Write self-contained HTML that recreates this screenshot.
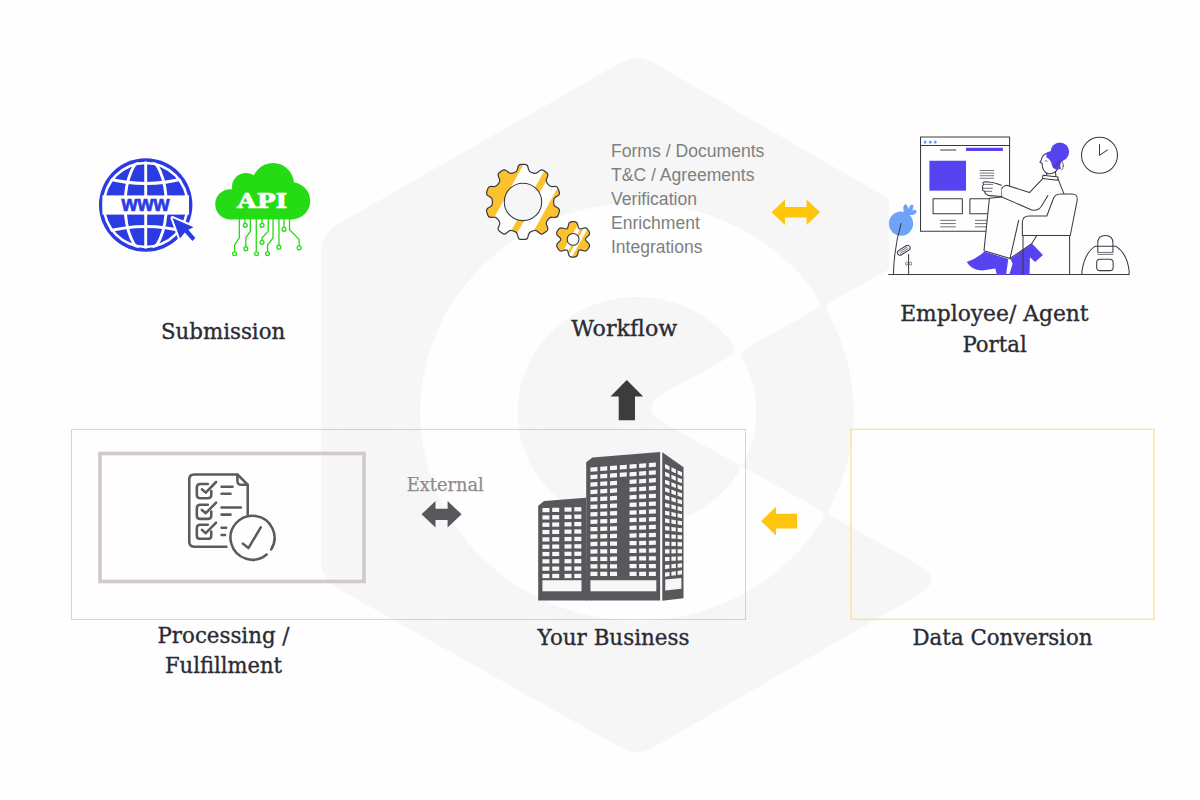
<!DOCTYPE html>
<html lang="en"><head><meta charset="utf-8"><title>Workflow diagram</title>
<style>html,body{margin:0;padding:0;background:#fefefe;}body{width:1200px;height:800px;overflow:hidden;position:relative;font-family:"Liberation Sans",sans-serif;}svg{position:absolute;left:0;top:0;display:block;}.lbl{font-family:"DejaVu Serif","Liberation Serif",serif;font-size:21.5px;fill:#2b2b33;stroke:#2b2b33;stroke-width:0.35px;}.lst{font-family:"Liberation Sans",sans-serif;font-size:17.5px;fill:#808080;}</style></head><body>
<svg width="1200" height="800" viewBox="0 0 1200 800">
<defs><clipPath id="hexclip"><path d="M637.0,53.0 L953.5,236.0 L950.0,577.0 L637.0,757.0 L320.5,579.0 L320.5,234.0 Z"/></clipPath>
<filter id="rnd" x="0" y="0" width="1200" height="800" filterUnits="userSpaceOnUse" color-interpolation-filters="sRGB"><feGaussianBlur stdDeviation="11"/><feComponentTransfer><feFuncA type="linear" slope="55" intercept="-27.00"/></feComponentTransfer></filter></defs>
<g filter="url(#rnd)"><path clip-path="url(#hexclip)" fill-rule="evenodd" fill="#f6f6f6" d="M637.0,53.0 L953.5,236.0 L950.0,577.0 L637.0,757.0 L320.5,579.0 L320.5,234.0 Z M420.0,412.0 a217.0,209.0 0 1 0 434.0,0 a217.0,209.0 0 1 0 -434.0,0 Z M517.0,412.0 a120.0,115.6 0 1 0 240.0,0 a120.0,115.6 0 1 0 -240.0,0 Z M637,408 L1137.0,133.0 L1137.0,686.0 Z"/></g>
<rect x="889" y="128" width="243" height="153" fill="#fefefe"/>
<rect x="71.5" y="429.5" width="674" height="190" fill="none" stroke="#b9b9b9" stroke-width="1" stroke-dasharray="1.2,0.8"/>
<rect x="100" y="453.5" width="264" height="128" fill="none" stroke="#d1c8c8" stroke-width="3.6"/>
<rect x="851" y="429.3" width="303" height="190" fill="none" stroke="#fbe08a" stroke-width="1.2"/>
<text class="lbl" x="161.0" y="338.6" textLength="124.2" lengthAdjust="spacingAndGlyphs">Submission</text>
<text class="lbl" x="571.3" y="336.4" textLength="106.0" lengthAdjust="spacingAndGlyphs">Workflow</text>
<text class="lbl" x="900.2" y="320.5" textLength="188.4" lengthAdjust="spacingAndGlyphs">Employee/ Agent</text>
<text class="lbl" x="962.4" y="352.0" textLength="64.4" lengthAdjust="spacingAndGlyphs">Portal</text>
<text class="lbl" x="157.5" y="642.6" textLength="132.0" lengthAdjust="spacingAndGlyphs">Processing /</text>
<text class="lbl" x="165.0" y="673.1" textLength="117.0" lengthAdjust="spacingAndGlyphs">Fulfillment</text>
<text class="lbl" x="537.6" y="645.0" textLength="151.9" lengthAdjust="spacingAndGlyphs">Your Business</text>
<text class="lbl" x="912.5" y="644.5" textLength="180.0" lengthAdjust="spacingAndGlyphs">Data Conversion</text>
<text class="lbl" x="406.8" y="491.3" textLength="77.0" lengthAdjust="spacingAndGlyphs" style="font-size:18.5px;fill:#8c8c8c;stroke:#8c8c8c;stroke-width:0.25px">External</text>
<text class="lst" x="611.0" y="156.6" textLength="153.4" lengthAdjust="spacingAndGlyphs">Forms / Documents</text>
<text class="lst" x="611.0" y="180.6" textLength="143.5" lengthAdjust="spacingAndGlyphs">T&amp;C / Agreements</text>
<text class="lst" x="611.0" y="204.6" textLength="86.0" lengthAdjust="spacingAndGlyphs">Verification</text>
<text class="lst" x="611.0" y="228.6" textLength="88.8" lengthAdjust="spacingAndGlyphs">Enrichment</text>
<text class="lst" x="611.0" y="252.6" textLength="91.4" lengthAdjust="spacingAndGlyphs">Integrations</text>
<polygon points="771.6,212.3 785.0,199.6 785.0,207.1 806.6,207.1 806.6,199.6 820.0,212.3 806.6,225.0 806.6,217.5 785.0,217.5 785.0,225.0" fill="#fec50a"/>
<polygon points="421.5,514.3 435.5,501.1 435.5,508.7 447.6,508.7 447.6,501.1 461.6,514.3 447.6,527.5 447.6,519.9 435.5,519.9 435.5,527.5" fill="#58575c"/>
<polygon points="626.8,380 643.2,396.4 635,396.4 635,420.2 618.7,420.2 618.7,396.4 610.5,396.4" fill="#3c3c3e"/>
<polygon points="761,521.1 776,506.7 776,513.8 797,513.8 797,528.5 776,528.5 776,535.6" fill="#fec50a"/><g id="globe">
<clipPath id="gclip"><circle cx="145.7" cy="205.0" r="43.5"/></clipPath>
<circle cx="145.7" cy="205.0" r="46.7" fill="#2b3be3"/>
<circle cx="145.7" cy="205.0" r="43.3" fill="#fff"/>
<circle cx="145.7" cy="205.0" r="40.7" fill="#2b3be3"/>
<g clip-path="url(#gclip)" stroke="#fff" stroke-width="2.9" fill="none">
<line x1="145.7" y1="158.3" x2="145.7" y2="251.7"/>
<ellipse cx="145.7" cy="205.0" rx="20.6" ry="47.2"/>
<path d="M105.7,178.0 Q145.7,189.0 185.7,178.0"/>
<path d="M105.7,232.0 Q145.7,221.0 185.7,232.0"/>
</g>
<rect x="102.4" y="195.4" width="86.6" height="19.2" fill="#fff"/>
<text x="121.6" y="211.2" textLength="48" lengthAdjust="spacingAndGlyphs" style="font-family:'Liberation Sans',sans-serif;font-weight:bold;font-size:22.5px;fill:#2b3be3;stroke:#2b3be3;stroke-width:0.7">www</text>
<polygon points="172.5,218 180,238.5 184.8,232.5 192.4,241 195.4,238 188.3,229.7 193.6,227.2" fill="#fff" stroke="#fff" stroke-width="4" stroke-linejoin="round"/>
<polygon points="172.5,218 180,238.5 184.8,232.5 192.4,241 195.4,238 188.3,229.7 193.6,227.2" fill="#2b3be3"/>
</g>
<g id="api">
<g fill="#25dc14">
<circle cx="230.3" cy="204.3" r="15.1"/>
<circle cx="246" cy="187" r="14"/>
<circle cx="273" cy="184" r="21"/>
<circle cx="291.6" cy="200.9" r="18.6"/>
<rect x="230" y="190" width="62" height="29.4"/>
</g>
<text x="237.3" y="207.7" textLength="50" lengthAdjust="spacingAndGlyphs" style="font-family:'DejaVu Serif','Liberation Serif',serif;font-weight:bold;font-size:19.8px;fill:#fff;stroke:#fff;stroke-width:0.7">API</text>
<g transform="translate(205,150) scale(0.13746)" fill="none" stroke="#25dc14" stroke-width="9.5" stroke-linejoin="round">
<path d="M250,500 V640 L215,690 V740"/>
<path d="M290,500 V533"/>
<path d="M330,500 V590 L297,640 V703"/>
<path d="M373,500 V740"/>
<path d="M415,500 V533"/>
<path d="M460,500 V590 L415,640 V657"/>
<path d="M495,500 V640 L455,690 V740"/>
<path d="M538,500 V692"/>
<path d="M575,500 V562"/>
<path d="M615,500 V580 L685,650 V697"/>
<circle cx="215" cy="755" r="14" fill="#fefefe"/>
<circle cx="293" cy="548" r="14" fill="#fefefe"/>
<circle cx="297" cy="718" r="14" fill="#fefefe"/>
<circle cx="375" cy="755" r="14" fill="#fefefe"/>
<circle cx="415" cy="548" r="14" fill="#fefefe"/>
<circle cx="415" cy="672" r="14" fill="#fefefe"/>
<circle cx="455" cy="755" r="14" fill="#fefefe"/>
<circle cx="537" cy="707" r="14" fill="#fefefe"/>
<circle cx="575" cy="577" r="14" fill="#fefefe"/>
<circle cx="685" cy="712" r="14" fill="#fefefe"/>
</g></g>
<g id="gears">
<clipPath id="g1c"><path d="M514.48,172.49 Q516.86,171.72 517.47,169.29 L518.11,166.77 Q518.72,164.34 521.22,164.34 L524.78,164.34 Q527.28,164.34 527.89,166.77 L528.53,169.29 Q529.14,171.72 531.52,172.49 L533.39,173.10 Q535.77,173.87 537.69,172.27 L539.69,170.60 Q541.61,169.00 543.64,170.47 L546.51,172.56 Q548.54,174.03 547.61,176.35 L546.64,178.77 Q545.71,181.09 547.18,183.11 L548.34,184.71 Q549.81,186.73 552.30,186.57 L554.90,186.39 Q557.40,186.22 558.17,188.60 L559.27,191.99 Q560.04,194.36 557.92,195.69 L555.72,197.08 Q553.60,198.41 553.60,200.91 L553.60,202.89 Q553.60,205.39 555.72,206.72 L557.92,208.11 Q560.04,209.44 559.27,211.81 L558.17,215.20 Q557.40,217.58 554.90,217.41 L552.30,217.23 Q549.81,217.07 548.34,219.09 L547.18,220.69 Q545.71,222.71 546.64,225.03 L547.61,227.45 Q548.54,229.77 546.51,231.24 L543.64,233.33 Q541.61,234.80 539.69,233.20 L537.69,231.53 Q535.77,229.93 533.39,230.70 L531.52,231.31 Q529.14,232.08 528.53,234.51 L527.89,237.03 Q527.28,239.46 524.78,239.46 L521.22,239.46 Q518.72,239.46 518.11,237.03 L517.47,234.51 Q516.86,232.08 514.48,231.31 L512.61,230.70 Q510.23,229.93 508.31,231.53 L506.31,233.20 Q504.39,234.80 502.36,233.33 L499.49,231.24 Q497.46,229.77 498.39,227.45 L499.36,225.03 Q500.29,222.71 498.82,220.69 L497.66,219.09 Q496.19,217.07 493.70,217.23 L491.10,217.41 Q488.60,217.58 487.83,215.20 L486.73,211.81 Q485.96,209.44 488.08,208.11 L490.28,206.72 Q492.40,205.39 492.40,202.89 L492.40,200.91 Q492.40,198.41 490.28,197.08 L488.08,195.69 Q485.96,194.36 486.73,191.99 L487.83,188.60 Q488.60,186.22 491.10,186.39 L493.70,186.57 Q496.19,186.73 497.66,184.71 L498.82,183.11 Q500.29,181.09 499.36,178.77 L498.39,176.35 Q497.46,174.03 499.49,172.56 L502.36,170.47 Q504.39,169.00 506.31,170.60 L508.31,172.27 Q510.23,173.87 512.61,173.10 Z"/></clipPath><clipPath id="g2c"><path d="M566.97,228.79 Q567.90,228.25 568.43,225.10 L568.48,224.82 Q569.01,221.67 572.21,221.67 L573.99,221.67 Q577.19,221.67 577.72,224.82 L577.77,225.10 Q578.30,228.25 579.23,228.79 L579.23,228.79 Q580.15,229.32 583.15,228.20 L583.41,228.11 Q586.41,226.99 588.01,229.76 L588.90,231.31 Q590.50,234.08 588.04,236.12 L587.82,236.29 Q585.35,238.33 585.35,239.40 L585.35,239.40 Q585.35,240.47 587.82,242.51 L588.04,242.68 Q590.50,244.72 588.90,247.49 L588.01,249.04 Q586.41,251.81 583.41,250.69 L583.15,250.60 Q580.15,249.48 579.23,250.01 L579.23,250.01 Q578.30,250.55 577.77,253.70 L577.72,253.98 Q577.19,257.13 573.99,257.13 L572.21,257.13 Q569.01,257.13 568.48,253.98 L568.43,253.70 Q567.90,250.55 566.97,250.01 L566.97,250.01 Q566.05,249.48 563.05,250.60 L562.79,250.69 Q559.79,251.81 558.19,249.04 L557.30,247.49 Q555.70,244.72 558.16,242.68 L558.38,242.51 Q560.85,240.47 560.85,239.40 L560.85,239.40 Q560.85,238.33 558.38,236.29 L558.16,236.12 Q555.70,234.08 557.30,231.31 L558.19,229.76 Q559.79,226.99 562.79,228.11 L563.05,228.20 Q566.05,229.32 566.97,228.79 Z"/></clipPath>
<g clip-path="url(#g1c)"><rect x="480" y="160" width="90" height="90" fill="#fbc22e"/>
<path d="M531.5,150 L555.8,150 L489.4,270 L465.2,270 Z" fill="#fff"/>
<path d="M563.2,150 L578.5,150 L512.2,270 L496.9,270 Z" fill="#fff"/>
</g>
<path d="M514.48,172.49 Q516.86,171.72 517.47,169.29 L518.11,166.77 Q518.72,164.34 521.22,164.34 L524.78,164.34 Q527.28,164.34 527.89,166.77 L528.53,169.29 Q529.14,171.72 531.52,172.49 L533.39,173.10 Q535.77,173.87 537.69,172.27 L539.69,170.60 Q541.61,169.00 543.64,170.47 L546.51,172.56 Q548.54,174.03 547.61,176.35 L546.64,178.77 Q545.71,181.09 547.18,183.11 L548.34,184.71 Q549.81,186.73 552.30,186.57 L554.90,186.39 Q557.40,186.22 558.17,188.60 L559.27,191.99 Q560.04,194.36 557.92,195.69 L555.72,197.08 Q553.60,198.41 553.60,200.91 L553.60,202.89 Q553.60,205.39 555.72,206.72 L557.92,208.11 Q560.04,209.44 559.27,211.81 L558.17,215.20 Q557.40,217.58 554.90,217.41 L552.30,217.23 Q549.81,217.07 548.34,219.09 L547.18,220.69 Q545.71,222.71 546.64,225.03 L547.61,227.45 Q548.54,229.77 546.51,231.24 L543.64,233.33 Q541.61,234.80 539.69,233.20 L537.69,231.53 Q535.77,229.93 533.39,230.70 L531.52,231.31 Q529.14,232.08 528.53,234.51 L527.89,237.03 Q527.28,239.46 524.78,239.46 L521.22,239.46 Q518.72,239.46 518.11,237.03 L517.47,234.51 Q516.86,232.08 514.48,231.31 L512.61,230.70 Q510.23,229.93 508.31,231.53 L506.31,233.20 Q504.39,234.80 502.36,233.33 L499.49,231.24 Q497.46,229.77 498.39,227.45 L499.36,225.03 Q500.29,222.71 498.82,220.69 L497.66,219.09 Q496.19,217.07 493.70,217.23 L491.10,217.41 Q488.60,217.58 487.83,215.20 L486.73,211.81 Q485.96,209.44 488.08,208.11 L490.28,206.72 Q492.40,205.39 492.40,202.89 L492.40,200.91 Q492.40,198.41 490.28,197.08 L488.08,195.69 Q485.96,194.36 486.73,191.99 L487.83,188.60 Q488.60,186.22 491.10,186.39 L493.70,186.57 Q496.19,186.73 497.66,184.71 L498.82,183.11 Q500.29,181.09 499.36,178.77 L498.39,176.35 Q497.46,174.03 499.49,172.56 L502.36,170.47 Q504.39,169.00 506.31,170.60 L508.31,172.27 Q510.23,173.87 512.61,173.10 Z" fill="none" stroke="#3a3a46" stroke-width="1.2"/>
<circle cx="523" cy="201.9" r="18.7" fill="#f6f6f6" stroke="#3a3a46" stroke-width="1.1"/>
<g clip-path="url(#g2c)"><rect x="550" y="218" width="46" height="46" fill="#fbc22e"/>
<path d="M619.0,150 L624.0,150 L557.7,270 L552.7,270 Z" fill="#fff"/>
<path d="M627.0,150 L631.0,150 L564.7,270 L560.7,270 Z" fill="#fff"/>
</g>
<path d="M566.97,228.79 Q567.90,228.25 568.43,225.10 L568.48,224.82 Q569.01,221.67 572.21,221.67 L573.99,221.67 Q577.19,221.67 577.72,224.82 L577.77,225.10 Q578.30,228.25 579.23,228.79 L579.23,228.79 Q580.15,229.32 583.15,228.20 L583.41,228.11 Q586.41,226.99 588.01,229.76 L588.90,231.31 Q590.50,234.08 588.04,236.12 L587.82,236.29 Q585.35,238.33 585.35,239.40 L585.35,239.40 Q585.35,240.47 587.82,242.51 L588.04,242.68 Q590.50,244.72 588.90,247.49 L588.01,249.04 Q586.41,251.81 583.41,250.69 L583.15,250.60 Q580.15,249.48 579.23,250.01 L579.23,250.01 Q578.30,250.55 577.77,253.70 L577.72,253.98 Q577.19,257.13 573.99,257.13 L572.21,257.13 Q569.01,257.13 568.48,253.98 L568.43,253.70 Q567.90,250.55 566.97,250.01 L566.97,250.01 Q566.05,249.48 563.05,250.60 L562.79,250.69 Q559.79,251.81 558.19,249.04 L557.30,247.49 Q555.70,244.72 558.16,242.68 L558.38,242.51 Q560.85,240.47 560.85,239.40 L560.85,239.40 Q560.85,238.33 558.38,236.29 L558.16,236.12 Q555.70,234.08 557.30,231.31 L558.19,229.76 Q559.79,226.99 562.79,228.11 L563.05,228.20 Q566.05,229.32 566.97,228.79 Z" fill="none" stroke="#3a3a46" stroke-width="1.2"/>
<circle cx="573.1" cy="239.4" r="5.9" fill="#fafafa" stroke="#3a3a46" stroke-width="1.1"/>
</g><g id="checklist" transform="translate(170,460) scale(0.13755)" fill="none" stroke="#5b5a61" stroke-width="18.5" stroke-linecap="round" stroke-linejoin="round">
<path d="M410,630 H175 Q140,630 140,595 V140 Q140,105 175,105 H490 L565,180 V395"/>
<path d="M490,108 V150 Q490,180 520,180 H562"/>
<path d="M300,225 V255 Q300,278 275,278 H220 Q195,278 195,253 V200 Q195,175 220,175 H275"/>
<path d="M232,213 L260,237 L335,160"/>
<path d="M300,375 V405 Q300,428 275,428 H220 Q195,428 195,403 V350 Q195,325 220,325 H275"/>
<path d="M232,363 L260,387 L335,310"/>
<path d="M300,520 V550 Q300,573 275,573 H220 Q195,573 195,548 V495 Q195,470 220,470 H275"/>
<path d="M232,508 L260,532 L335,455"/>
<path d="M375,195 H455"/>
<path d="M375,245 H440"/>
<path d="M375,345 H515"/>
<path d="M375,397 H440"/>
<path d="M375,492 H408"/>
<path d="M375,545 H400"/>
<path d="M702.8,687.6 A160,160 0 1 1 735.7,649.8" fill="#fefefe"/>
<path d="M530,608 L570,640 L660,490"/>
</g>
<g id="building" transform="translate(525,440) scale(0.21249)">
<g fill="#58575c">
<polygon points="62,755 62,310 90,287 287,272 292,755"/>
<polygon points="288,755 288,105 318,82 636,56 636,755"/>
<polygon points="646,757 646,58 746,128 746,745"/>
</g><g fill="#f7f7f7">
<polygon points="308.0,130.0 341.0,127.4 341.0,147.4 308.0,150.0"/>
<polygon points="308.0,165.0 341.0,162.5 341.0,182.5 308.0,185.0"/>
<polygon points="308.0,200.0 341.0,197.7 341.0,217.7 308.0,220.0"/>
<polygon points="308.0,235.0 341.0,232.9 341.0,252.9 308.0,255.0"/>
<polygon points="308.0,270.0 341.0,268.1 341.0,288.1 308.0,290.0"/>
<polygon points="308.0,305.0 341.0,303.3 341.0,323.3 308.0,325.0"/>
<polygon points="308.0,340.0 341.0,338.5 341.0,358.5 308.0,360.0"/>
<polygon points="308.0,375.0 341.0,373.7 341.0,393.7 308.0,395.0"/>
<polygon points="308.0,410.0 341.0,408.9 341.0,428.9 308.0,430.0"/>
<polygon points="308.0,445.0 341.0,444.1 341.0,464.1 308.0,465.0"/>
<polygon points="308.0,480.0 341.0,479.2 341.0,499.2 308.0,500.0"/>
<polygon points="308.0,515.0 341.0,514.4 341.0,534.4 308.0,535.0"/>
<polygon points="308.0,550.0 341.0,549.6 341.0,569.6 308.0,570.0"/>
<polygon points="308.0,585.0 341.0,584.8 341.0,604.8 308.0,605.0"/>
<polygon points="308.0,620.0 341.0,620.0 341.0,640.0 308.0,640.0"/>
<polygon points="354.0,126.3 387.0,123.7 387.0,143.7 354.0,146.3"/>
<polygon points="354.0,161.6 387.0,159.1 387.0,179.1 354.0,181.6"/>
<polygon points="354.0,196.8 387.0,194.6 387.0,214.6 354.0,216.8"/>
<polygon points="354.0,232.1 387.0,230.0 387.0,250.0 354.0,252.1"/>
<polygon points="354.0,267.4 387.0,265.5 387.0,285.5 354.0,287.4"/>
<polygon points="354.0,302.6 387.0,300.9 387.0,320.9 354.0,322.6"/>
<polygon points="354.0,337.9 387.0,336.4 387.0,356.4 354.0,357.9"/>
<polygon points="354.0,373.2 387.0,371.8 387.0,391.8 354.0,393.2"/>
<polygon points="354.0,408.4 387.0,407.3 387.0,427.3 354.0,428.4"/>
<polygon points="354.0,443.7 387.0,442.7 387.0,462.7 354.0,463.7"/>
<polygon points="354.0,478.9 387.0,478.2 387.0,498.2 354.0,498.9"/>
<polygon points="354.0,514.2 387.0,513.6 387.0,533.6 354.0,534.2"/>
<polygon points="354.0,549.5 387.0,549.1 387.0,569.1 354.0,569.5"/>
<polygon points="354.0,584.7 387.0,584.5 387.0,604.5 354.0,604.7"/>
<polygon points="354.0,620.0 387.0,620.0 387.0,640.0 354.0,640.0"/>
<polygon points="400.0,122.6 433.0,120.0 433.0,140.0 400.0,142.6"/>
<polygon points="400.0,158.2 433.0,155.7 433.0,175.7 400.0,178.2"/>
<polygon points="400.0,193.7 433.0,191.4 433.0,211.4 400.0,213.7"/>
<polygon points="400.0,229.2 433.0,227.1 433.0,247.1 400.0,249.2"/>
<polygon points="400.0,264.7 433.0,262.9 433.0,282.9 400.0,284.7"/>
<polygon points="400.0,300.3 433.0,298.6 433.0,318.6 400.0,320.3"/>
<polygon points="400.0,335.8 433.0,334.3 433.0,354.3 400.0,355.8"/>
<polygon points="400.0,371.3 433.0,370.0 433.0,390.0 400.0,391.3"/>
<polygon points="400.0,406.8 433.0,405.7 433.0,425.7 400.0,426.8"/>
<polygon points="400.0,442.4 433.0,441.4 433.0,461.4 400.0,462.4"/>
<polygon points="400.0,477.9 433.0,477.1 433.0,497.1 400.0,497.9"/>
<polygon points="400.0,513.4 433.0,512.9 433.0,532.9 400.0,533.4"/>
<polygon points="400.0,548.9 433.0,548.6 433.0,568.6 400.0,568.9"/>
<polygon points="400.0,584.5 433.0,584.3 433.0,604.3 400.0,604.5"/>
<polygon points="400.0,620.0 433.0,620.0 433.0,640.0 400.0,640.0"/>
<polygon points="446.0,119.0 479.0,116.3 479.0,136.3 446.0,139.0"/>
<polygon points="446.0,154.7 479.0,152.3 479.0,172.3 446.0,174.7"/>
<polygon points="492.0,115.3 525.0,112.6 525.0,132.6 492.0,135.3"/>
<polygon points="492.0,151.3 525.0,148.9 525.0,168.9 492.0,171.3"/>
<polygon points="492.0,187.4 525.0,185.1 525.0,205.1 492.0,207.4"/>
<polygon points="492.0,223.4 525.0,221.4 525.0,241.4 492.0,243.4"/>
<polygon points="492.0,259.5 525.0,257.6 525.0,277.6 492.0,279.5"/>
<polygon points="492.0,295.5 525.0,293.8 525.0,313.8 492.0,315.5"/>
<polygon points="492.0,331.6 525.0,330.1 525.0,350.1 492.0,351.6"/>
<polygon points="492.0,367.6 525.0,366.3 525.0,386.3 492.0,387.6"/>
<polygon points="492.0,403.7 525.0,402.6 525.0,422.6 492.0,423.7"/>
<polygon points="492.0,439.7 525.0,438.8 525.0,458.8 492.0,459.7"/>
<polygon points="492.0,475.8 525.0,475.0 525.0,495.0 492.0,495.8"/>
<polygon points="492.0,511.8 525.0,511.3 525.0,531.3 492.0,531.8"/>
<polygon points="492.0,547.9 525.0,547.5 525.0,567.5 492.0,567.9"/>
<polygon points="492.0,583.9 525.0,583.8 525.0,603.8 492.0,603.9"/>
<polygon points="492.0,620.0 525.0,620.0 525.0,640.0 492.0,640.0"/>
<polygon points="537.0,111.7 570.0,109.0 570.0,129.0 537.0,131.7"/>
<polygon points="537.0,148.0 570.0,145.5 570.0,165.5 537.0,168.0"/>
<polygon points="537.0,184.3 570.0,182.0 570.0,202.0 537.0,204.3"/>
<polygon points="537.0,220.6 570.0,218.5 570.0,238.5 537.0,240.6"/>
<polygon points="537.0,256.9 570.0,255.0 570.0,275.0 537.0,276.9"/>
<polygon points="537.0,293.2 570.0,291.5 570.0,311.5 537.0,313.2"/>
<polygon points="537.0,329.5 570.0,328.0 570.0,348.0 537.0,349.5"/>
<polygon points="537.0,365.8 570.0,364.5 570.0,384.5 537.0,385.8"/>
<polygon points="537.0,402.1 570.0,401.0 570.0,421.0 537.0,422.1"/>
<polygon points="537.0,438.5 570.0,437.5 570.0,457.5 537.0,458.5"/>
<polygon points="537.0,474.8 570.0,474.0 570.0,494.0 537.0,494.8"/>
<polygon points="537.0,511.1 570.0,510.5 570.0,530.5 537.0,531.1"/>
<polygon points="537.0,547.4 570.0,547.0 570.0,567.0 537.0,567.4"/>
<polygon points="537.0,583.7 570.0,583.5 570.0,603.5 537.0,603.7"/>
<polygon points="537.0,620.0 570.0,620.0 570.0,640.0 537.0,640.0"/>
<polygon points="583.0,108.0 616.0,105.4 616.0,125.4 583.0,128.0"/>
<polygon points="583.0,144.6 616.0,142.1 616.0,162.1 583.0,164.6"/>
<polygon points="583.0,181.1 616.0,178.9 616.0,198.9 583.0,201.1"/>
<polygon points="583.0,217.7 616.0,215.6 616.0,235.6 583.0,237.7"/>
<polygon points="583.0,254.3 616.0,252.4 616.0,272.4 583.0,274.3"/>
<polygon points="583.0,290.9 616.0,289.2 616.0,309.2 583.0,310.9"/>
<polygon points="583.0,327.4 616.0,325.9 616.0,345.9 583.0,347.4"/>
<polygon points="583.0,364.0 616.0,362.7 616.0,382.7 583.0,384.0"/>
<polygon points="583.0,400.6 616.0,399.4 616.0,419.4 583.0,420.6"/>
<polygon points="583.0,437.1 616.0,436.2 616.0,456.2 583.0,457.1"/>
<polygon points="583.0,473.7 616.0,473.0 616.0,493.0 583.0,493.7"/>
<polygon points="583.0,510.3 616.0,509.7 616.0,529.7 583.0,530.3"/>
<polygon points="583.0,546.9 616.0,546.5 616.0,566.5 583.0,566.9"/>
<polygon points="583.0,583.4 616.0,583.2 616.0,603.2 583.0,603.4"/>
<polygon points="583.0,620.0 616.0,620.0 616.0,640.0 583.0,640.0"/>
<rect x="82.0" y="320.0" width="33" height="20"/>
<rect x="82.0" y="354.4" width="33" height="20"/>
<rect x="82.0" y="388.9" width="33" height="20"/>
<rect x="82.0" y="423.3" width="33" height="20"/>
<rect x="82.0" y="457.8" width="33" height="20"/>
<rect x="82.0" y="492.2" width="33" height="20"/>
<rect x="82.0" y="526.7" width="33" height="20"/>
<rect x="82.0" y="561.1" width="33" height="20"/>
<rect x="82.0" y="595.6" width="33" height="20"/>
<rect x="82.0" y="630.0" width="33" height="20"/>
<rect x="128.0" y="318.8" width="33" height="20"/>
<rect x="128.0" y="353.4" width="33" height="20"/>
<rect x="128.0" y="387.9" width="33" height="20"/>
<rect x="128.0" y="422.5" width="33" height="20"/>
<rect x="128.0" y="457.1" width="33" height="20"/>
<rect x="128.0" y="491.7" width="33" height="20"/>
<rect x="128.0" y="526.3" width="33" height="20"/>
<rect x="128.0" y="560.8" width="33" height="20"/>
<rect x="128.0" y="595.4" width="33" height="20"/>
<rect x="128.0" y="630.0" width="33" height="20"/>
<rect x="186.0" y="317.2" width="33" height="20"/>
<rect x="186.0" y="352.0" width="33" height="20"/>
<rect x="186.0" y="386.7" width="33" height="20"/>
<rect x="186.0" y="421.5" width="33" height="20"/>
<rect x="186.0" y="456.2" width="33" height="20"/>
<rect x="186.0" y="491.0" width="33" height="20"/>
<rect x="186.0" y="525.7" width="33" height="20"/>
<rect x="186.0" y="560.5" width="33" height="20"/>
<rect x="186.0" y="595.2" width="33" height="20"/>
<rect x="186.0" y="630.0" width="33" height="20"/>
<rect x="232.0" y="316.0" width="33" height="20"/>
<rect x="232.0" y="350.9" width="33" height="20"/>
<rect x="232.0" y="385.8" width="33" height="20"/>
<rect x="232.0" y="420.7" width="33" height="20"/>
<rect x="232.0" y="455.6" width="33" height="20"/>
<rect x="232.0" y="490.4" width="33" height="20"/>
<rect x="232.0" y="525.3" width="33" height="20"/>
<rect x="232.0" y="560.2" width="33" height="20"/>
<rect x="232.0" y="595.1" width="33" height="20"/>
<rect x="232.0" y="630.0" width="33" height="20"/>
<polygon points="659.0,113.5 680.0,123.7 680.0,142.7 659.0,132.5"/>
<polygon points="659.0,150.0 680.0,159.2 680.0,178.2 659.0,169.0"/>
<polygon points="659.0,186.5 680.0,194.7 680.0,213.7 659.0,205.5"/>
<polygon points="659.0,222.9 680.0,230.3 680.0,249.3 659.0,241.9"/>
<polygon points="659.0,259.4 680.0,265.8 680.0,284.8 659.0,278.4"/>
<polygon points="659.0,295.9 680.0,301.4 680.0,320.4 659.0,314.9"/>
<polygon points="659.0,332.4 680.0,336.9 680.0,355.9 659.0,351.4"/>
<polygon points="659.0,368.8 680.0,372.4 680.0,391.4 659.0,387.8"/>
<polygon points="659.0,405.3 680.0,408.0 680.0,427.0 659.0,424.3"/>
<polygon points="659.0,441.8 680.0,443.5 680.0,462.5 659.0,460.8"/>
<polygon points="659.0,478.2 680.0,479.1 680.0,498.1 659.0,497.2"/>
<polygon points="659.0,514.7 680.0,514.6 680.0,533.6 659.0,533.7"/>
<polygon points="659.0,551.2 680.0,550.2 680.0,569.2 659.0,570.2"/>
<polygon points="659.0,587.7 680.0,585.7 680.0,604.7 659.0,606.7"/>
<polygon points="659.0,624.1 680.0,621.2 680.0,640.2 659.0,643.1"/>
<polygon points="689.0,128.0 710.0,138.1 710.0,157.1 689.0,147.0"/>
<polygon points="689.0,163.1 710.0,172.3 710.0,191.3 689.0,182.1"/>
<polygon points="689.0,198.3 710.0,206.6 710.0,225.6 689.0,217.3"/>
<polygon points="689.0,233.4 710.0,240.8 710.0,259.8 689.0,252.4"/>
<polygon points="689.0,268.6 710.0,275.0 710.0,294.0 689.0,287.6"/>
<polygon points="689.0,303.7 710.0,309.2 710.0,328.2 689.0,322.7"/>
<polygon points="689.0,338.9 710.0,343.4 710.0,362.4 689.0,357.9"/>
<polygon points="689.0,374.0 710.0,377.6 710.0,396.6 689.0,393.0"/>
<polygon points="689.0,409.1 710.0,411.8 710.0,430.8 689.0,428.1"/>
<polygon points="689.0,444.3 710.0,446.0 710.0,465.0 689.0,463.3"/>
<polygon points="689.0,479.4 710.0,480.3 710.0,499.3 689.0,498.4"/>
<polygon points="689.0,514.6 710.0,514.5 710.0,533.5 689.0,533.6"/>
<polygon points="689.0,549.7 710.0,548.7 710.0,567.7 689.0,568.7"/>
<polygon points="689.0,584.9 710.0,582.9 710.0,601.9 689.0,603.9"/>
<polygon points="689.0,620.0 710.0,617.1 710.0,636.1 689.0,639.0"/>
<polygon points="718.0,142.0 739.0,152.1 739.0,171.1 718.0,161.0"/>
<polygon points="718.0,175.9 739.0,185.1 739.0,204.1 718.0,194.9"/>
<polygon points="718.0,209.7 739.0,218.0 739.0,237.0 718.0,228.7"/>
<polygon points="718.0,243.6 739.0,250.9 739.0,269.9 718.0,262.6"/>
<polygon points="718.0,277.4 739.0,283.8 739.0,302.8 718.0,296.4"/>
<polygon points="718.0,311.3 739.0,316.8 739.0,335.8 718.0,330.3"/>
<polygon points="718.0,345.1 739.0,349.7 739.0,368.7 718.0,364.1"/>
<polygon points="718.0,379.0 739.0,382.6 739.0,401.6 718.0,398.0"/>
<polygon points="718.0,412.9 739.0,415.5 739.0,434.5 718.0,431.9"/>
<polygon points="718.0,446.7 739.0,448.5 739.0,467.5 718.0,465.7"/>
<polygon points="718.0,480.6 739.0,481.4 739.0,500.4 718.0,499.6"/>
<polygon points="718.0,514.4 739.0,514.3 739.0,533.3 718.0,533.4"/>
<polygon points="718.0,548.3 739.0,547.3 739.0,566.3 718.0,567.3"/>
<polygon points="718.0,582.1 739.0,580.2 739.0,599.2 718.0,601.1"/>
<polygon points="718.0,616.0 739.0,613.1 739.0,632.1 718.0,635.0"/>
<rect x="82" y="660" width="184" height="52"/>
<rect x="308" y="660" width="310" height="52"/>
<polygon points="660,656 736,650 736,700 660,708"/>
</g></g><g id="portal" transform="translate(880,125) scale(0.21668)" fill="none" stroke="#3a3a46" stroke-width="4.8" stroke-linecap="round" stroke-linejoin="round">
<path d="M40,690 H1150"/>
<circle cx="1013" cy="140" r="83" fill="#fefefe"/><path d="M1013,90 V140 L1050,115"/>
<rect x="187" y="55" width="411" height="435" fill="#fefefe"/>
<path d="M187,95 H598"/>
<circle cx="208" cy="79" r="7" fill="#6ea3f7" stroke="none"/>
<circle cx="232" cy="79" r="7" fill="#6ea3f7" stroke="none"/>
<circle cx="255" cy="79" r="7" fill="#6ea3f7" stroke="none"/>
<path d="M280,115 H350"/>
<rect x="397" y="105" width="170" height="15" fill="#5843f0" stroke="none"/>
<rect x="228" y="165" width="169" height="138" fill="#5843f0" stroke="none"/>
<path d="M462,210 H525" stroke-width="3.2"/>
<path d="M462,222 H525" stroke-width="3.2"/>
<path d="M462,234 H525" stroke-width="3.2"/>
<path d="M462,246 H525" stroke-width="3.2"/>
<rect x="245" y="340" width="135" height="70"/>
<rect x="415" y="340" width="110" height="70"/>
<path d="M280,440 H348" stroke-width="3.4"/>
<path d="M440,440 H500" stroke-width="3.4"/>
<path d="M280,455 H348" stroke-width="3.4"/>
<path d="M440,455 H500" stroke-width="3.4"/>
<path d="M280,470 H348" stroke-width="3.4"/>
<path d="M440,470 H500" stroke-width="3.4"/>
<g stroke="none" fill="#6ea3f7"><circle cx="97" cy="455" r="56"/><path d="M112,405 Q100,375 118,365 Q128,372 132,388 Q140,360 155,372 Q152,390 148,395 Q165,385 170,400 Q160,418 135,415 Z"/></g>
<path d="M97,455 C78,520 64,600 62,690"/>
<path d="M132,690 V598"/>
<g transform="rotate(-32 110 578)"><rect x="78" y="566" width="64" height="24" rx="12" fill="#fefefe"/><path d="M90,574 H130 M90,582 H130" stroke-width="3"/></g>
<path d="M132,640 q-14,-14 -14,0 q0,14 14,0 q14,-14 14,0 q0,14 -14,0" stroke-width="3"/>
<path d="M752,246 L690,312 L585,278 Q555,285 560,310 L562,332 L505,338 L480,580 L600,616 L700,548 L730,500 L800,420 L850,320 L822,250 Z" fill="#fefefe"/>
<path d="M657,510 V450 Q657,420 688,420 H770 L798,345 Q805,318 835,318 H885 Q915,318 910,348 L878,510 Z" fill="#fefefe"/>
<path d="M562,332 L700,392 Q730,398 745,375 L775,325"/>
<path d="M640,440 L600,616"/>
<path d="M560,278 Q520,262 485,262 Q470,264 478,274 Q470,280 474,292 Q470,300 482,306 Q484,320 505,326 L560,330" fill="#fefefe"/>
<path d="M478,274 H520 M474,292 H518 M482,306 H515" stroke-width="3.4"/>
<path d="M772,205 L768,238 H812 L808,200 Z" fill="#fefefe"/>
<path d="M752,232 L822,240 L820,255 L750,247 Z" fill="#fefefe"/>
<path d="M775,130 Q748,135 745,160 L738,172 L748,178 Q748,215 775,225 Q815,228 825,190 Q830,150 800,130 Z" fill="#fefefe"/>
<g fill="#5843f0" stroke="none"><circle cx="830" cy="124" r="43"/><path d="M768,128 Q800,110 835,140 Q850,175 835,200 Q810,215 795,190 Q790,160 768,150 Z"/></g>
<ellipse cx="838" cy="188" rx="8" ry="18" fill="#fefefe" stroke-width="3.4"/>
<path d="M800,195 L832,160 M806,198 L836,166" stroke-width="3"/>
<path d="M762,165 q8,-4 10,4" stroke-width="3"/>
<g fill="#5843f0" stroke="none">
<path d="M482,584 L592,618 L582,692 L540,692 L532,662 L470,672 Q420,668 400,632 Q445,618 482,584 Z"/>
<path d="M602,618 L702,548 L752,600 L716,632 L692,610 L690,692 L596,692 L612,640 Z"/>
</g>
<path d="M660,510 V690 M875,510 V690"/>
<path d="M940,690 Q930,690 932,675 Q945,590 992,560 H1090 Q1140,592 1150,675 Q1152,690 1140,690 Z" fill="#fefefe"/>
<path d="M1005,585 V545 Q1005,510 1040,510 Q1075,510 1075,545 V585"/>
<path d="M1005,588 H1075 M1005,597 H1075" stroke-width="3.4"/>
<rect x="1000" y="620" width="76" height="52" rx="16"/>
</g></svg></body></html>
